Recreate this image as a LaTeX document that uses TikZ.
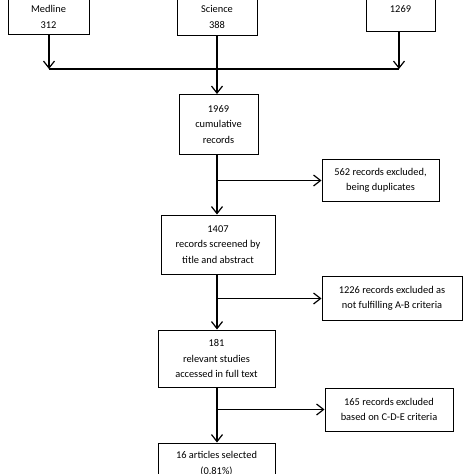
\documentclass[tikz,border=0pt]{standalone}
\usepackage{fontspec}
\setmainfont{Carlito}
\usetikzlibrary{arrows.meta}
\tikzset{
  box/.style={draw=black, line width=1pt, fill=white, inner sep=0pt, align=center,
    font=\fontsize{10.4}{15.5}\selectfont},
  txt/.style={inner sep=0pt, align=center, font=\fontsize{10.4}{15.5}\selectfont},
  conn/.style={line width=1.2pt, draw=black},
  arr/.style={conn, -{Straight Barb[length=7pt,width=11pt,line width=1.2pt]}}
}
\begin{document}
\begin{tikzpicture}[x=1pt,y=-1pt]
\useasboundingbox (0,0) rectangle (474,474);
\fill[white] (0,0) rectangle (474,474);
\clip (0,0) rectangle (474,474);
% top source boxes (cut at the top edge)
\node[box, minimum width=81pt, minimum height=60pt] (med) at (48.5,4) {};
\node[txt] (medt) at (48.5,17) {Medline\\312};
\node[box, minimum width=80pt, minimum height=60pt] (sci) at (217,5) {};
\node[txt] (scit) at (217,17) {Science\\388};
\node[box, minimum width=69pt, minimum height=60pt] (thr) at (400.5,1) {};
\node[txt] (thrt) at (400.5,9) {1269};
% main column
\node[box, minimum width=79pt, minimum height=60pt] (cum) at (218.5,124.5) {1969\\cumulative\\records};
\node[box, minimum width=114pt, minimum height=59pt] (scr) at (218,244.5) {1407\\records screened by\\title and abstract};
\node[box, minimum width=117pt, minimum height=57pt] (rel) at (216.5,358.5) {181\\relevant studies\\accessed in full text};
\node[box, minimum width=117pt, minimum height=41pt] (sel) at (216.5,463.5) {16 articles selected\\(0.81\%)};
% exclusion boxes
\node[box, minimum width=117pt, minimum height=42pt] (ex1) at (380.5,180.5) {562 records excluded,\\being duplicates};
\node[box, minimum width=140pt, minimum height=44pt] (ex2) at (392,298.5) {1226 records excluded as\\not fulfilling A-B criteria};
\node[box, minimum width=128pt, minimum height=43pt] (ex3) at (389,409.5) {165 records excluded\\based on C-D-E criteria};
% coordinates
\coordinate (spine) at (217,0);
\coordinate (j1) at (49,69);
\coordinate (j3) at (399,69);
% connectors
\draw[arr] (med.south -| j1) -- (j1);
\draw[arr] (thr.south -| j3) -- (j3);
\draw[conn] (j1) -- (j3);
\draw[arr] (sci.south -| spine) -- (cum.north -| spine);
\draw[arr] (cum.south -| spine) -- (scr.north -| spine);
\draw[arr] (scr.south -| spine) -- (rel.north -| spine);
\draw[arr] (rel.south -| spine) -- (sel.north -| spine);
\draw[arr] (spine |- ex1.west) -- (ex1.west);
\draw[arr] (spine |- ex2.west) -- (ex2.west);
\draw[arr] (spine |- ex3.west) -- (ex3.west);
\end{tikzpicture}
\end{document}
